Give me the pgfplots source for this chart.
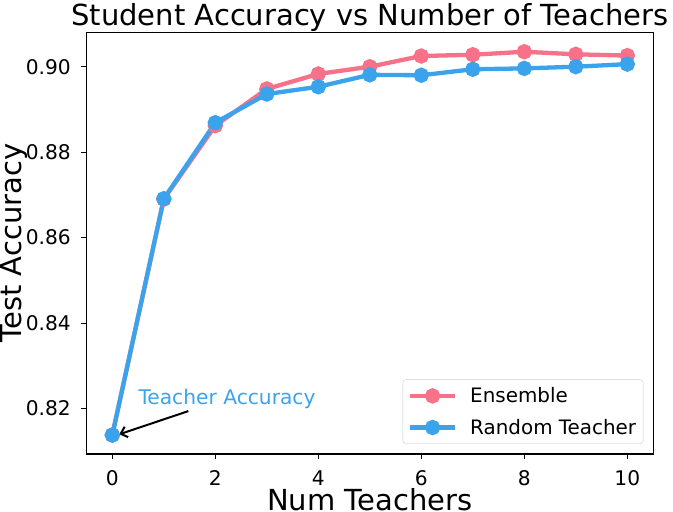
\documentclass[border=0pt]{standalone}
\usepackage{pgfplots}
\pgfplotsset{compat=1.18}
\usetikzlibrary{arrows.meta}
\usepackage{fontspec}
\setmainfont{DejaVu Sans}
\definecolor{cpink}{HTML}{F77189}
\definecolor{cblue}{HTML}{3BA3EC}
\newcommand{\tickfont}{\fontsize{20.2bp}{24bp}\selectfont}
\newcommand{\legfont}{\fontsize{19.9bp}{24bp}\selectfont}
\newcommand{\labfont}{\fontsize{29bp}{33bp}\selectfont}
\begin{document}
\begin{tikzpicture}
\path[use as bounding box] (-86.3bp,-58bp) rectangle (586.7bp,454bp);
\begin{axis}[
  scale only axis, width=567bp, height=421.7bp,
  at={(0,0)}, anchor=south west,
  xmin=-0.505, xmax=10.505, ymin=0.80936, ymax=0.90805,
  xtick={0,2,4,6,8,10}, ytick={0.82,0.84,0.86,0.88,0.90},
  xtick pos=left, ytick pos=left,
  tick align=outside, major tick length=5bp,
  tick style={black, line width=1.15bp},
  axis line style={line width=1.15bp},
  ticklabel style={font=\tickfont},
  /pgf/number format/assume math mode=true,
  yticklabel style={/pgf/number format/fixed, /pgf/number format/fixed zerofill, /pgf/number format/precision=2, anchor=east, inner sep=0pt, xshift=-10.3bp},
  xticklabel style={anchor=north, inner sep=0pt, yshift=-11.5bp},
  title={Student Accuracy vs Number of Teachers},
  title style={font=\labfont, at={(0.5,1)}, anchor=base, yshift=1.3bp},
  legend style={at={(0.9824,0.0237)}, anchor=south east, draw=black!20, rounded corners=3bp, fill=white, font=\legfont, inner xsep=5bp, inner ysep=6bp, row sep=11bp, column sep=11bp},
  legend cell align=left,
  legend image code/.code={\draw[#1, mark repeat=2, mark phase=2] plot coordinates {(0bp,0bp)(22.5bp,0bp)(45bp,0bp)};},
]
\addplot[cpink, line width=4.3bp, mark=*, mark size=5.5bp, mark options={solid}] coordinates {
(0,0.8138) (1,0.8690) (2,0.8862) (3,0.8948) (4,0.8983) (5,0.9000) (6,0.9025) (7,0.9028) (8,0.9035) (9,0.9029) (10,0.9026)};
\addlegendentry{Ensemble}
\addplot[cblue, line width=4.3bp, mark=*, mark size=5.5bp, mark options={solid}] coordinates {
(0,0.8138) (1,0.8691) (2,0.8869) (3,0.8936) (4,0.8953) (5,0.8981) (6,0.8980) (7,0.8994) (8,0.8996) (9,0.9000) (10,0.9006)};
\addlegendentry{Random Teacher}
\draw[line width=2bp, -{Straight Barb[length=6bp, width=11bp]}] (axis cs:1.476,0.8194) -- (axis cs:0.136,0.81397);
\node[anchor=base west, text=cblue, font=\tickfont, inner sep=0pt] at (axis cs:0.505,0.821) {Teacher Accuracy};
\end{axis}
\node[anchor=base, font=\labfont] at (283.5bp,-56bp) {Num Teachers};
\node[anchor=base, rotate=90, font=\labfont] at (-64.3bp,210.85bp) {Test Accuracy};
\end{tikzpicture}
\end{document}
